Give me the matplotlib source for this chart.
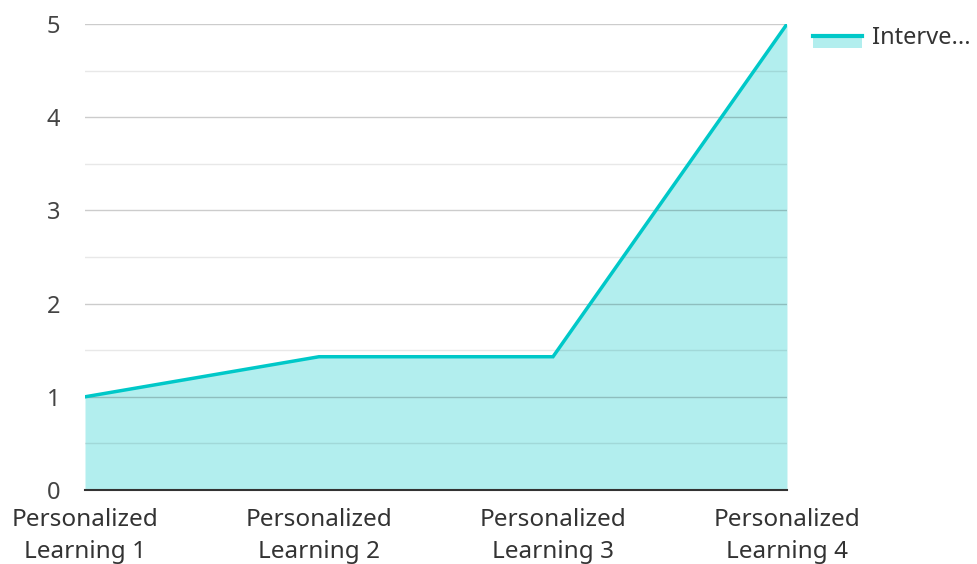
import matplotlib

matplotlib.use('Agg')
import matplotlib.pyplot as plt
from matplotlib.patches import Patch, Rectangle
from matplotlib.lines import Line2D
from matplotlib.legend_handler import HandlerBase
from matplotlib.ticker import MultipleLocator

categories = ['Personalized\nLearning 1', 'Personalized\nLearning 2',
              'Personalized\nLearning 3', 'Personalized\nLearning 4']
values = [1, 1.43, 1.43, 5]
series_name = 'Interve...'

LINE = '#00c8c8'
FILL = '#b2eeee'


class AreaHandler(HandlerBase):
    # line through the middle, filled area hanging below it
    def create_artists(self, legend, orig_handle, xdescent, ydescent,
                       width, height, fontsize, trans):
        y0 = -ydescent + height * 0.5
        rect = Rectangle((-xdescent, y0 - height * 0.72), width, height * 0.72,
                         facecolor=FILL, edgecolor='none', transform=trans)
        line = Line2D([-xdescent, -xdescent + width], [y0, y0],
                      color=LINE, linewidth=3, transform=trans)
        return [rect, line]


plt.rcParams['font.family'] = ['Noto Sans', 'DejaVu Sans']

fig = plt.figure(figsize=(9.77, 5.64), dpi=100)
ax = fig.add_axes([0.087, 0.1312, 0.7185, 0.8262])

x = range(len(categories))
ax.fill_between(x, values, 0, color=FILL, linewidth=0, zorder=1)
ax.plot(x, values, color=LINE, linewidth=2.5, zorder=3, solid_joinstyle='miter')

ax.set_xlim(0, len(categories) - 1)
ax.set_ylim(0, 5)
ax.yaxis.set_major_locator(MultipleLocator(1))
ax.yaxis.set_minor_locator(MultipleLocator(0.5))
ax.grid(which='major', axis='y', color='#000000', alpha=0.2, linewidth=1, zorder=2)
ax.grid(which='minor', axis='y', color='#000000', alpha=0.09, linewidth=1, zorder=2)
ax.set_axisbelow(False)

ax.set_xticks(list(x))
ax.set_xticklabels(categories, fontsize=17.5, color='#333333', linespacing=1.42)
ax.tick_params(axis='y', labelsize=17, colors='#444444', length=0, pad=18)
ax.tick_params(axis='x', length=0, pad=13)
ax.tick_params(which='minor', length=0)

for side in ['top', 'right', 'left']:
    ax.spines[side].set_visible(False)
ax.spines['bottom'].set_color('#333333')
ax.spines['bottom'].set_linewidth(1.5)
ax.spines['bottom'].set_zorder(4)

ax.legend([Patch()], [series_name], handler_map={Patch: AreaHandler()},
          loc='upper left', bbox_to_anchor=(1.02, 1.021), frameon=False,
          fontsize=17, handlelength=2.08, handleheight=0.7, handletextpad=0.42,
          labelcolor='#333333', borderpad=0)

fig.savefig('out.png', dpi=100)
